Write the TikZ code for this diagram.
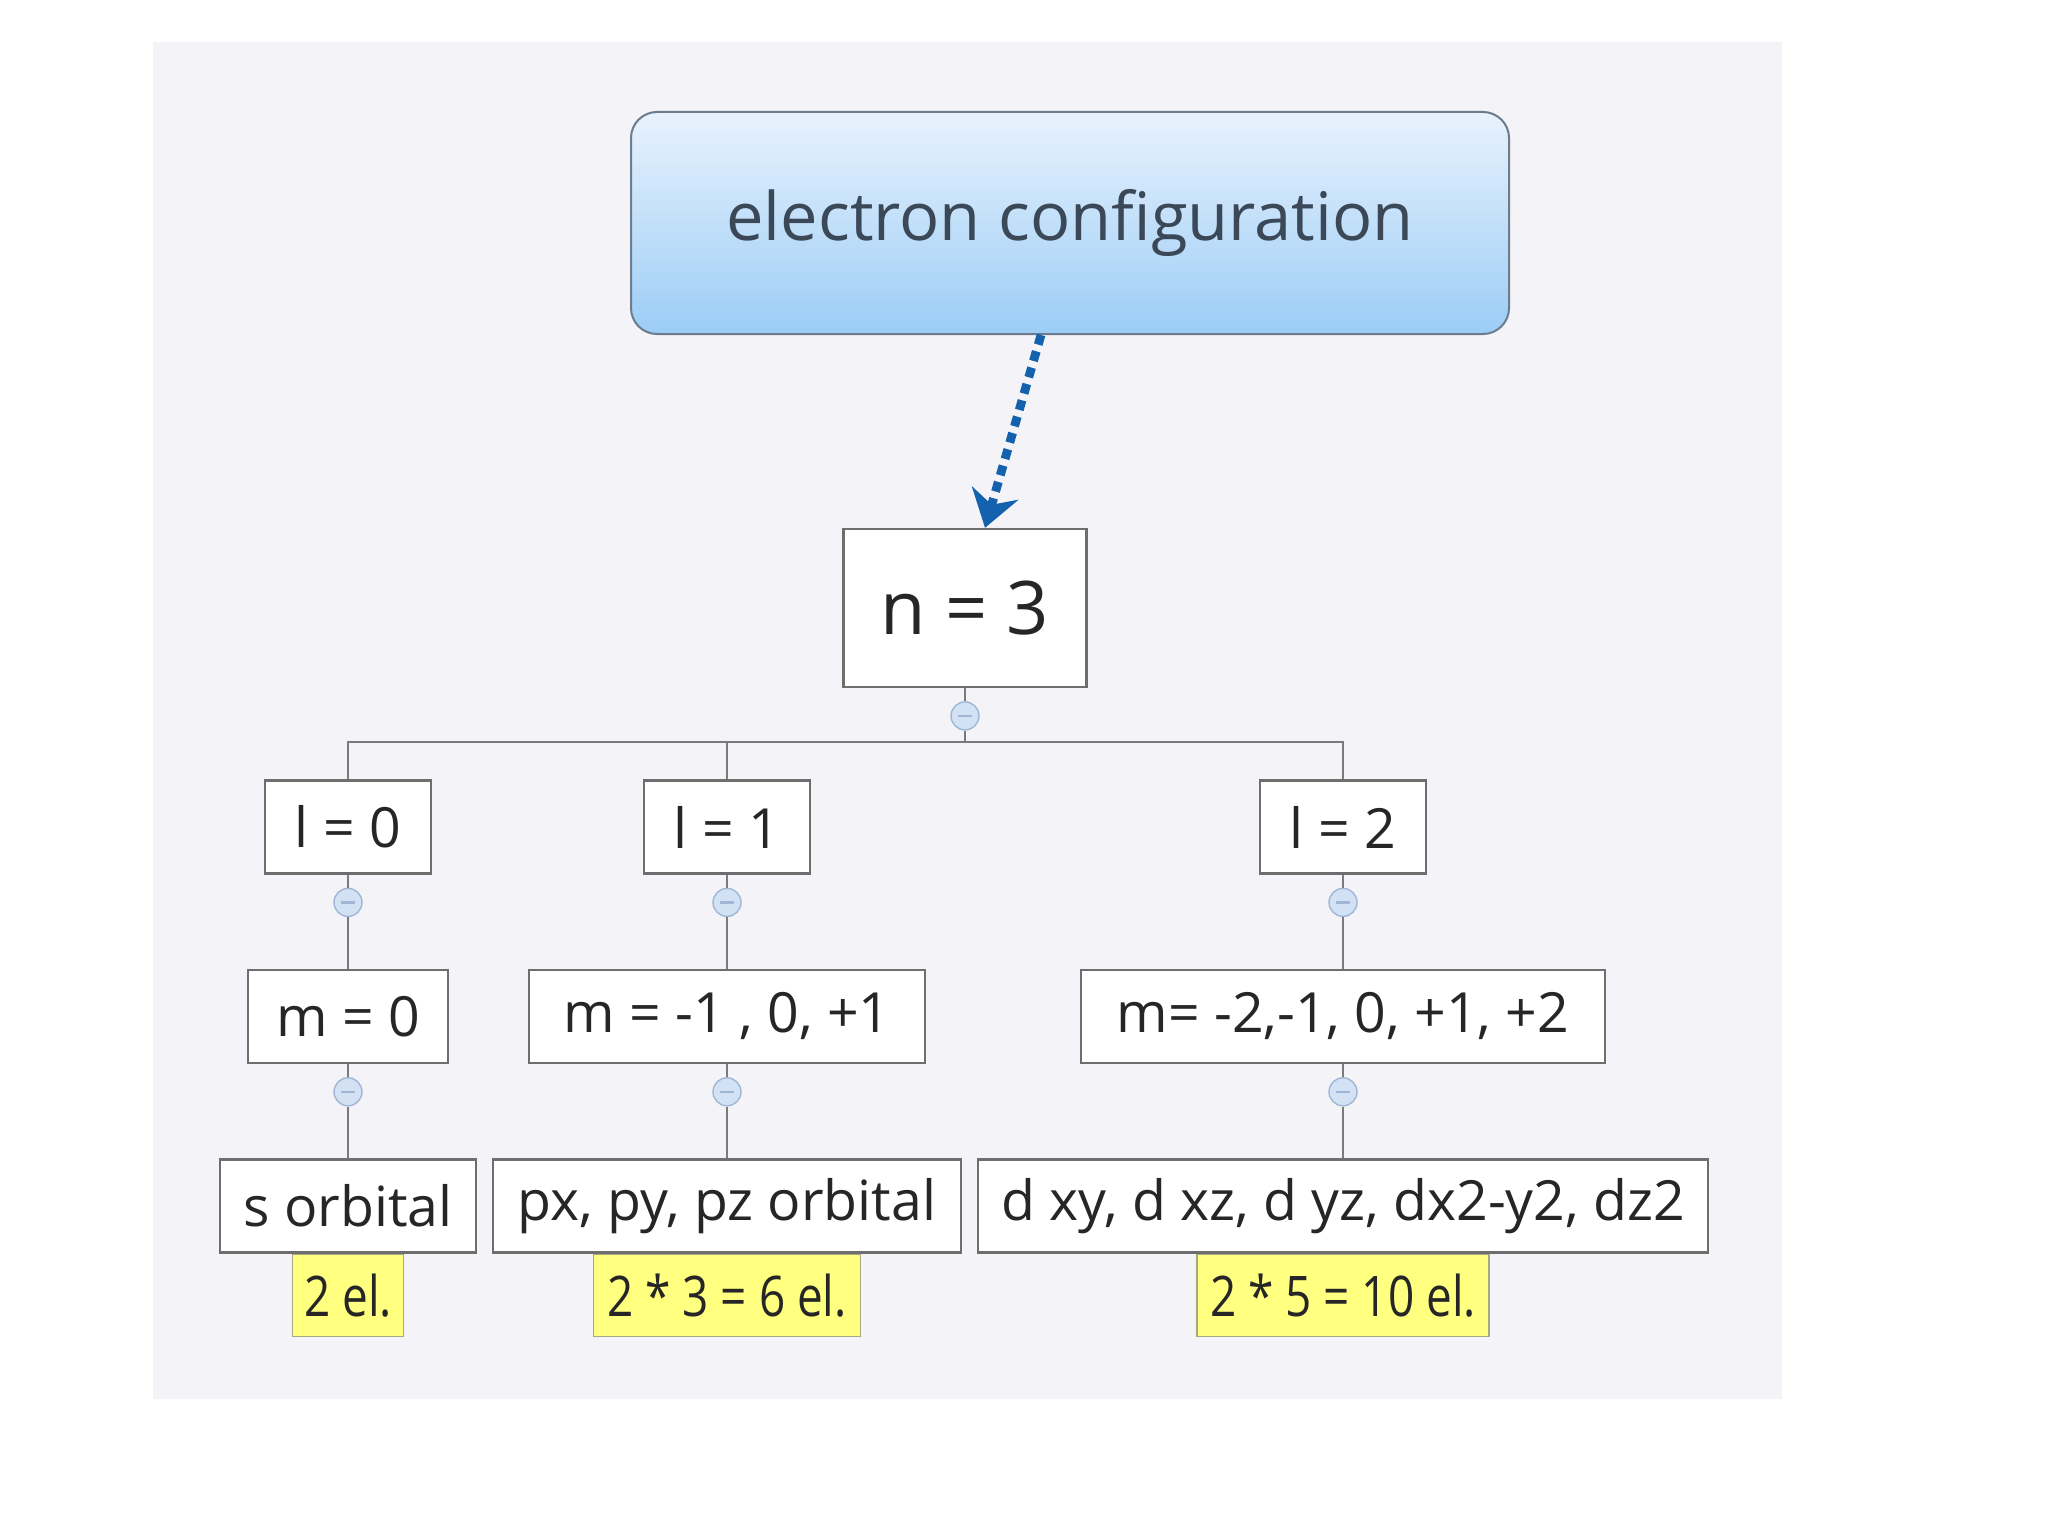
\documentclass[tikz,border=0pt]{standalone}
\usepackage{fontspec}
\setmainfont{Open Sans}
\newfontfamily\narrowfont[FakeStretch=0.82]{Open Sans}
\usetikzlibrary{arrows.meta,positioning,shapes.geometric}
\definecolor{canvas}{HTML}{F3F3F8}
\definecolor{topictop}{HTML}{E8F2FD}
\definecolor{topicbot}{HTML}{9CCDF6}
\definecolor{topicline}{HTML}{6C7C8C}
\definecolor{topictext}{HTML}{3A4858}
\definecolor{boxline}{HTML}{6E6E6E}
\definecolor{branchgray}{HTML}{7A7A7A}
\definecolor{foldfill}{HTML}{D2E2F4}
\definecolor{foldline}{HTML}{A0B6D4}
\definecolor{noteyellow}{HTML}{FFFF80}
\definecolor{noteline}{HTML}{A8A880}
\definecolor{arrowblue}{HTML}{1462AE}
\tikzset{
  topic/.style={draw=topicline, rounded corners=13pt, line width=1pt,
                top color=topictop, bottom color=topicbot,
                minimum width=439pt, minimum height=111pt, text=topictext,
                font=\fontsize{33.4}{40}\selectfont},
  leaf/.style={draw=boxline, fill=white, line width=1.2pt, inner sep=0pt,
               minimum height=46.5pt, text=black!85,
               font=\fontsize{27.7}{33}\selectfont},
  note/.style={draw=noteline, fill=noteyellow, line width=0.8pt, inner sep=0pt,
               minimum height=41pt, text=black!85,
               font=\narrowfont\fontsize{28}{33}\selectfont},
  fold/.style={circle, draw=foldline, fill=foldfill, line width=0.7pt,
               minimum size=14pt, inner sep=0pt,
               path picture={\draw[foldline, line width=1.2pt]
                 ([xshift=-3.5pt]path picture bounding box.center) --
                 ([xshift=3.5pt]path picture bounding box.center);}},
  branch/.style={draw=branchgray, line width=1.3pt},
  dotarrow/.style={draw=arrowblue, line width=4.4pt, dash pattern=on 5pt off 3.5pt,
                   -{Stealth[length=18pt, width=24pt, inset=6pt]}}
}

\begin{document}
\begin{tikzpicture}[x=0.5pt, y=-0.5pt]
  \useasboundingbox (0,0) rectangle (2048,1536);
  \fill[white] (0,0) rectangle (2048,1536);
  \fill[canvas] (153,42) rectangle (1782,1399);

  % main topic and the n node
  \node[topic] (root) at (1070,223) {electron configuration};
  \node[leaf, minimum width=121.5pt, minimum height=79pt,
        font=\fontsize{37}{44}\selectfont] (n3) at (965,608) {n = 3};
  \draw[dotarrow] ([xshift=-14.5pt]root.south) -- ([xshift=10pt]n3.north);

  % l level
  \node[leaf, minimum width=83pt] (l0) at (348,827) {l = 0};
  \node[leaf, minimum width=83pt] (l1) at (727,827) {l = 1};
  \node[leaf, minimum width=83pt] (l2) at (1343,827) {l = 2};

  % m level
  \node[leaf, minimum width=100pt, below=47pt of l0] (m0) {m = 0};
  \node[leaf, minimum width=198pt, below=47pt of l1] (m1) {m = -1 , 0, +1};
  \node[leaf, minimum width=262pt, below=47pt of l2] (m2) {m= -2,-1, 0, +1, +2};

  % orbitals
  \node[leaf, minimum width=128pt, below=47pt of m0] (o0) {s orbital};
  \node[leaf, minimum width=234pt, below=47pt of m1] (o1) {px, py, pz orbital};
  \node[leaf, minimum width=365pt, below=47pt of m2] (o2) {d xy, d xz, d yz, dx2-y2, dz2};

  % electron counts
  \node[note, minimum width=55.5pt, below=0pt of o0] (e0) {2 el.};
  \node[note, minimum width=133.5pt, below=0pt of o1] (e1) {2 * 3 = 6 el.};
  \node[note, minimum width=146pt, below=0pt of o2] (e2) {2 * 5 = 10 el.};

  % collapse buttons
  \node[fold, below=6.5pt of n3] (fn) {};
  \node[fold, below=6.5pt of l0] (f0) {};
  \node[fold, below=6.5pt of l1] (f1) {};
  \node[fold, below=6.5pt of l2] (f2) {};
  \node[fold, below=6.5pt of m0] (g0) {};
  \node[fold, below=6.5pt of m1] (g1) {};
  \node[fold, below=6.5pt of m2] (g2) {};

  % branches
  \coordinate (bus) at (965,742);
  \draw[branch] (n3.south) -- (fn.north);
  \draw[branch] (fn.south) -- (bus);
  \draw[branch] (l0.north) |- (bus) -| (l2.north);
  \draw[branch] (l1.north) -- (l1.north |- bus);
  \draw[branch] (l0.south) -- (f0.north);
  \draw[branch] (f0.south) -- (m0.north);
  \draw[branch] (l1.south) -- (f1.north);
  \draw[branch] (f1.south) -- (m1.north);
  \draw[branch] (l2.south) -- (f2.north);
  \draw[branch] (f2.south) -- (m2.north);
  \draw[branch] (m0.south) -- (g0.north);
  \draw[branch] (g0.south) -- (o0.north);
  \draw[branch] (m1.south) -- (g1.north);
  \draw[branch] (g1.south) -- (o1.north);
  \draw[branch] (m2.south) -- (g2.north);
  \draw[branch] (g2.south) -- (o2.north);
\end{tikzpicture}
\end{document}
